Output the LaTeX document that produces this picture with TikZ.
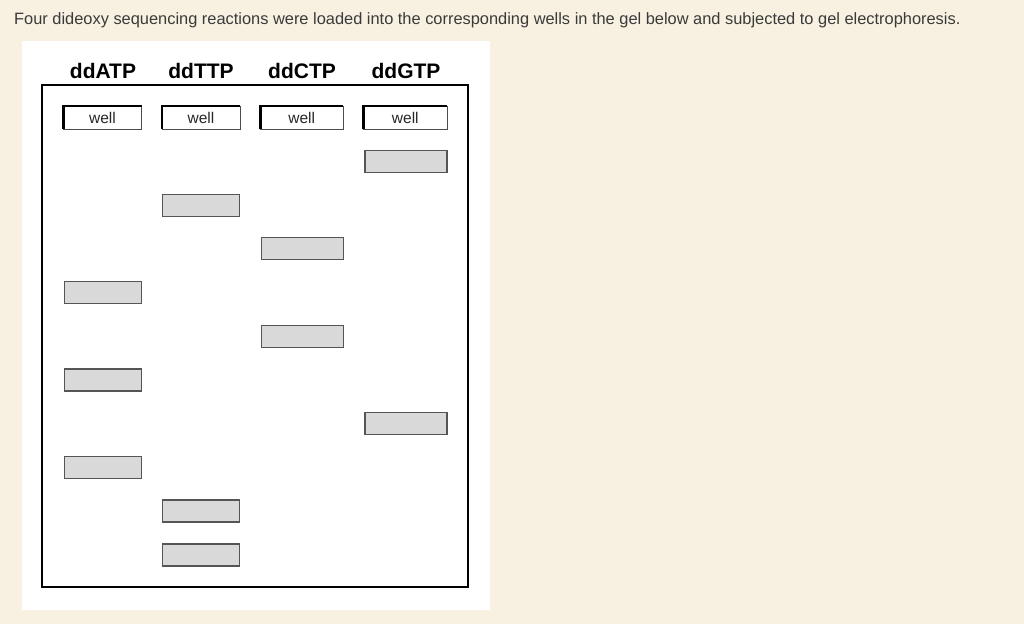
\documentclass[tikz,border=0pt]{standalone}
\usepackage{fontspec}
\setmainfont{Liberation Sans}
\usepackage{xcolor}
\definecolor{paper}{HTML}{F8F1E2}
\definecolor{bandgray}{HTML}{D9D9D9}
\definecolor{bandedge}{HTML}{555555}
\definecolor{titlegray}{HTML}{3A3A3A}

\begin{document}
\begin{tikzpicture}[x=1pt,y=-1pt,
    lanelabel/.style={font=\fontsize{21}{24}\selectfont\bfseries, inner sep=0pt},
    wellbox/.style={draw=gray!60!black, line width=1pt, fill=white, minimum height=23pt, inner sep=0pt, outer sep=0pt, font=\fontsize{15.5}{17}\selectfont, text=black!85},
    wellshade/.style={line width=2.6pt, black},
    band/.style={draw=bandedge, line width=1.3pt, fill=bandgray, minimum height=22pt, inner sep=0pt, outer sep=0pt}]
    % Background
    \useasboundingbox (0,0) rectangle (1024,624);
    \fill[paper] (0,0) rectangle (1024,624);
    \fill[white] (22,41) rectangle (490,610);

    % Question text
    \node[anchor=west, text=titlegray, font=\fontsize{16.4}{19}\selectfont, inner sep=0pt] (question) at (14,20)
        {Four dideoxy sequencing reactions were loaded into the corresponding wells in the gel below and subjected to gel electrophoresis.};

    % Gel
    \node[draw, line width=2pt, minimum width=426pt, minimum height=502pt, inner sep=0pt, outer sep=0pt] (gel) at (255,336) {};

    % Lane labels
    \node[lanelabel] (labA) at (103,71) {ddATP};
    \node[lanelabel] (labT) at (201,71) {ddTTP};
    \node[lanelabel] (labC) at (302,71) {ddCTP};
    \node[lanelabel] (labG) at (406,71) {ddGTP};

    % Wells
    \node[wellbox, minimum width=78pt] (wellA) at (102.5,117.5) {well};
    \node[wellbox, minimum width=78pt] (wellT) at (201,117.5) {well};
    \node[wellbox, minimum width=83pt] (wellC) at (301.7,117.5) {well};
    \node[wellbox, minimum width=84pt] (wellG) at (405.3,117.5) {well};
    \foreach \w in {wellA,wellT,wellC,wellG}
        \draw[wellshade] (\w.south west) -- (\w.north west) -- (\w.north east);

    % Bands
    \node[band, minimum width=77pt] (bandA1) at (103.2,292.7) {};
    \node[band, minimum width=77pt] (bandA2) at (103.2,380) {};
    \node[band, minimum width=77pt] (bandA3) at (103.2,467.7) {};
    \node[band, minimum width=77pt] (bandT1) at (201.3,205.5) {};
    \node[band, minimum width=77pt] (bandT2) at (201.3,511) {};
    \node[band, minimum width=77pt] (bandT3) at (201.3,555) {};
    \node[band, minimum width=82pt] (bandC1) at (302.2,248.7) {};
    \node[band, minimum width=82pt] (bandC2) at (302.2,336.3) {};
    \node[band, minimum width=82pt] (bandG1) at (406,161.5) {};
    \node[band, minimum width=82pt] (bandG2) at (406,423.7) {};

\end{tikzpicture}
\end{document}
